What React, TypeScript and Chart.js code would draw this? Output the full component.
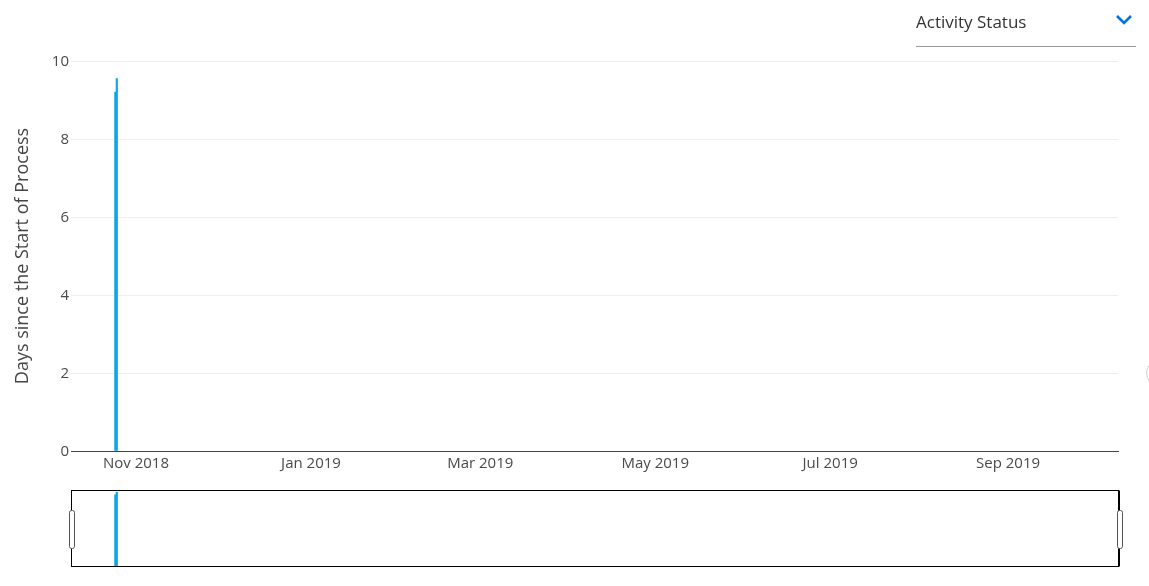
import React, { useEffect, useRef } from "react";
import { Chart, registerables } from "chart.js";

Chart.register(...registerables);

// ---- data ----
const eventDates = ["2018-10-24T19:00:00Z", "2018-10-25T07:00:00Z"];
const daysSinceStart = [9.2, 9.55];

const xRangeDates = ["2018-10-09T08:00:00Z", "2019-10-09T08:00:00Z"];
const tickDates = [
  "2018-11-01T00:00:00Z",
  "2019-01-01T00:00:00Z",
  "2019-03-01T00:00:00Z",
  "2019-05-01T00:00:00Z",
  "2019-07-01T00:00:00Z",
  "2019-09-01T00:00:00Z",
];
const tickLabels = ["Nov 2018", "Jan 2019", "Mar 2019", "May 2019", "Jul 2019", "Sep 2019"];
const yAxisTitle = "Days since the Start of Process";
const dropdownLabel = "Activity Status";

const BAR_COLOR = "#0aa6e9";
const FONT = "'Open Sans', 'DejaVu Sans', sans-serif";

const toMs = (s: string) => Date.parse(s);

function points() {
  return eventDates.map((d, i) => ({ x: toMs(d), y: daysSinceStart[i] }));
}

const sliderFrame = {
  id: "sliderFrame",
  afterDraw(chart: any) {
    const { ctx, chartArea } = chart;
    const { left, right, top, bottom } = chartArea;
    ctx.save();
    ctx.strokeStyle = "#000";
    ctx.lineWidth = 1;
    const l = Math.round(left) + 0.5;
    const r = Math.round(right) + 0.5;
    const t = Math.round(top) - 0.5;
    const b = Math.round(bottom) + 0.5;
    ctx.strokeRect(l, t, r - l, b - t);
    ctx.beginPath();
    ctx.moveTo(r + 1, t);
    ctx.lineTo(r + 1, b);
    ctx.stroke();
    const drawHandle = (cx: number) => {
      const w = 5;
      const h = 38;
      const x = Math.round(cx - w / 2) + 0.5;
      const y = Math.round(top + 19) + 0.5;
      ctx.beginPath();
      if ((ctx as any).roundRect) (ctx as any).roundRect(x, y, w, h, 2);
      else ctx.rect(x, y, w, h);
      ctx.fillStyle = "#fff";
      ctx.fill();
      ctx.strokeStyle = "#555";
      ctx.lineWidth = 1;
      ctx.stroke();
    };
    drawHandle(l);
    drawHandle(r + 1);
    ctx.restore();
  },
};

export default function App() {
  const mainRef = useRef<HTMLCanvasElement | null>(null);
  const sliderRef = useRef<HTMLCanvasElement | null>(null);

  useEffect(() => {
    const xMin = toMs(xRangeDates[0]);
    const xMax = toMs(xRangeDates[1]);
    const tickValues = tickDates.map(toMs);

    const main = new Chart(mainRef.current!, {
      type: "bar",
      data: {
        datasets: [
          {
            data: points() as any,
            backgroundColor: BAR_COLOR,
            borderWidth: 0,
            barThickness: 1.5,
          } as any,
        ],
      },
      options: {
        animation: false,
        responsive: false,
        maintainAspectRatio: false,
        layout: { padding: { top: 61, right: 31, left: 0, bottom: 0 } },
        plugins: { legend: { display: false }, tooltip: { enabled: false } },
        scales: {
          x: {
            type: "linear",
            min: xMin,
            max: xMax,
            offset: false,
            grid: { display: false, drawTicks: false, offset: false },
            border: { display: true, color: "#444", width: 1 },
            afterBuildTicks: (scale: any) => {
              scale.ticks = tickValues.map((v) => ({ value: v }));
            },
            afterFit: (scale: any) => {
              scale.height = 29;
            },
            ticks: {
              autoSkip: false,
              maxRotation: 0,
              padding: 4,
              color: "#4a4a4a",
              font: { family: FONT, size: 15 },
              callback: (_v: any, i: number) => tickLabels[i],
            },
          },
          y: {
            min: 0,
            max: 10,
            grid: { color: "#eeeeee", lineWidth: 1, drawTicks: false },
            border: { display: false },
            afterFit: (scale: any) => {
              scale.width = 71;
            },
            ticks: {
              stepSize: 2,
              padding: 2,
              labelOffset: 1,
              color: "#4a4a4a",
              font: { family: FONT, size: 15 },
            },
            title: {
              display: true,
              text: yAxisTitle,
              color: "#444",
              font: { family: FONT, size: 18 },
              padding: { top: 12, bottom: 0 },
            },
          },
        },
      } as any,
    });

    const slider = new Chart(sliderRef.current!, {
      type: "bar",
      data: {
        datasets: [
          {
            data: points() as any,
            backgroundColor: BAR_COLOR,
            borderWidth: 0,
            barThickness: 1.5,
          } as any,
        ],
      },
      options: {
        animation: false,
        responsive: false,
        maintainAspectRatio: false,
        layout: { padding: { top: 11, right: 31, left: 71, bottom: 14 } },
        plugins: { legend: { display: false }, tooltip: { enabled: false } },
        scales: {
          x: { type: "linear", min: xMin, max: xMax, offset: false, display: false },
          y: { min: 0, max: 9.7, display: false },
        },
      } as any,
      plugins: [sliderFrame],
    });

    return () => {
      main.destroy();
      slider.destroy();
    };
  }, []);

  return (
    <div
      style={{
        position: "absolute",
        left: 0,
        top: 0,
        width: 1149,
        height: 586,
        overflow: "hidden",
        background: "#fff",
        fontFamily: FONT,
      }}
    >
      <canvas ref={mainRef} width={1149} height={480} style={{ position: "absolute", left: 0, top: 0 }} />
      <canvas ref={sliderRef} width={1149} height={100} style={{ position: "absolute", left: 0, top: 480 }} />
      <div
        style={{
          position: "absolute",
          left: 916,
          top: 9,
          width: 220,
          height: 37,
          borderBottom: "1px solid #9a9a9a",
        }}
      >
        <span style={{ position: "absolute", left: 0, top: 0, fontSize: 17, color: "#333", lineHeight: "26px" }}>
          {dropdownLabel}
        </span>
        <svg width="18" height="12" style={{ position: "absolute", left: 199, top: 5 }} viewBox="0 0 18 12">
          <polyline points="2,2 9,9 16,2" fill="none" stroke="#0073e7" strokeWidth="2.6" />
        </svg>
      </div>
      <div
        style={{
          position: "absolute",
          left: 1146,
          top: 360,
          width: 24,
          height: 24,
          borderRadius: "50%",
          border: "1px solid #cfcfcf",
        }}
      />
    </div>
  );
}
